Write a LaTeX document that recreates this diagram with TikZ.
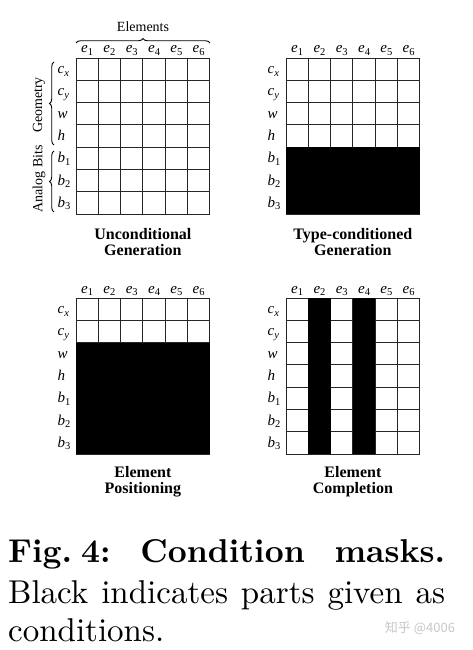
\documentclass[tikz,border=0pt]{standalone}
\usepackage{fontspec}
\newfontfamily\tms{Liberation Serif}
\newfontfamily\cjk{Noto Sans CJK SC}
\newfontfamily\capfont{lmroman10-regular.otf}[BoldFont=lmroman10-bold.otf]
\usetikzlibrary{decorations.pathreplacing}
\newcommand\mv[2]{\textit{#1}\raisebox{-0.35ex}{\fontsize{10.5}{10.5}\selectfont #2}}
\def\cs{22.3}
\tikzset{
  gridline/.style={draw=black!85, line width=0.9pt},
  maskfill/.style={fill=black, draw=none},
  elab/.style={font=\tms\fontsize{15}{15}\selectfont, inner sep=0pt, anchor=base},
  rlab/.style={font=\tms\fontsize{15}{15}\selectfont, inner sep=0pt, anchor=base west},
  gname/.style={font=\tms\fontsize{14}{14}\selectfont, inner sep=0pt},
  gcap/.style={font=\tms\bfseries\fontsize{16}{16}\selectfont, align=center, inner sep=0pt},
  bracestyle/.style={decorate, decoration={brace, amplitude=4.5pt}, line width=0.9pt},
  captext/.style={inner sep=0pt, anchor=base west, font=\capfont\fontsize{33}{33}\selectfont},
}
% #1 prefix, #2 left, #3 top, #4 fills, #5 caption
\newcommand\maskgrid[5]{%
  \begin{scope}[shift={(#2pt,-#3pt)}]
    \foreach \i in {0,...,6} \draw[gridline] ({\i*\cs pt},0) -- ({\i*\cs pt},{-7*\cs pt});
    \foreach \j in {0,...,7} \draw[gridline] (0,{-\j*\cs pt}) -- ({6*\cs pt},{-\j*\cs pt});
    #4
    \coordinate (#1nw) at (0,0);
    \coordinate (#1se) at ({6*\cs pt},{-7*\cs pt});
    \foreach \i in {1,...,6}
      \node[elab] (#1e\i) at ({(\i-0.5)*\cs pt},5pt) {\mv{e}{\i}};
    \foreach \l [count=\k] in {{\mv{c}{\textit{x}}},{\mv{c}{\textit{y}}},{\textit{w}},{\textit{h}},{\mv{b}{1}},{\mv{b}{2}},{\mv{b}{3}}}
      \node[rlab] (#1r\k) at (-18.5pt,{-(\k-0.5)*\cs pt-4.5pt}) {\l};
    \node[gcap] (#1cap) at ({3*\cs pt},{-7*\cs pt-28pt}) {#5};
  \end{scope}}
\begin{document}
\begin{tikzpicture}
\useasboundingbox (0,0) rectangle (472pt,-650pt);
\fill[white] (0,0) rectangle (472pt,-650pt);
% Grid 1
\maskgrid{a}{76}{58}{}{Unconditional\\Generation}
% Grid 2
\maskgrid{b}{286}{58}{\fill[maskfill] (0,{-4*\cs pt}) rectangle ({6*\cs pt},{-7*\cs pt});}{Type-conditioned\\Generation}
% Grid 3
\maskgrid{c}{76}{298}{\fill[maskfill] (0,{-2*\cs pt}) rectangle ({6*\cs pt},{-7*\cs pt});}{Element\\Positioning}
% Grid 4
\maskgrid{d}{286}{298}{\fill[maskfill] ({1*\cs pt},0) rectangle ({2*\cs pt},{-7*\cs pt});
  \fill[maskfill] ({3*\cs pt},0) rectangle ({4*\cs pt},{-7*\cs pt});}{Element\\Completion}
% Annotations on grid 1
\coordinate (tbl) at (76pt,-43pt);
\coordinate (tbr) at (210pt,-43pt);
\draw[bracestyle] (tbl) -- (tbr);
\node[gname, anchor=base] (elements) at (143pt,-32pt) {Elements};
\coordinate (gb) at (54pt,-145pt);
\coordinate (gt) at (54pt,-62pt);
\draw[bracestyle] (gb) -- (gt);
\coordinate (ab) at (54pt,-212pt);
\coordinate (at) at (54pt,-151pt);
\draw[bracestyle] (ab) -- (at);
\node[gname, rotate=90] (geom) at (39pt,-105pt) {Geometry};
\node[gname, rotate=90] (analog) at (39pt,-179pt) {Analog Bits};
% Figure caption
\node[captext] (cap1) at (8pt,-562pt) {\hbox to 437pt{\bfseries Fig.\hspace{9pt}4:\hfill Condition\hfill masks.}};
\node[captext] (cap2) at (8pt,-603pt) {\hbox to 437pt{Black\hfill indicates\hfill parts\hfill given\hfill as}};
\node[captext] (cap3) at (8pt,-641pt) {conditions.};
\node[font=\cjk\fontsize{13}{13}\selectfont, text=black!22, inner sep=0pt] (wm) at (420pt,-628pt) {知乎 @4006};
\end{tikzpicture}
\end{document}
